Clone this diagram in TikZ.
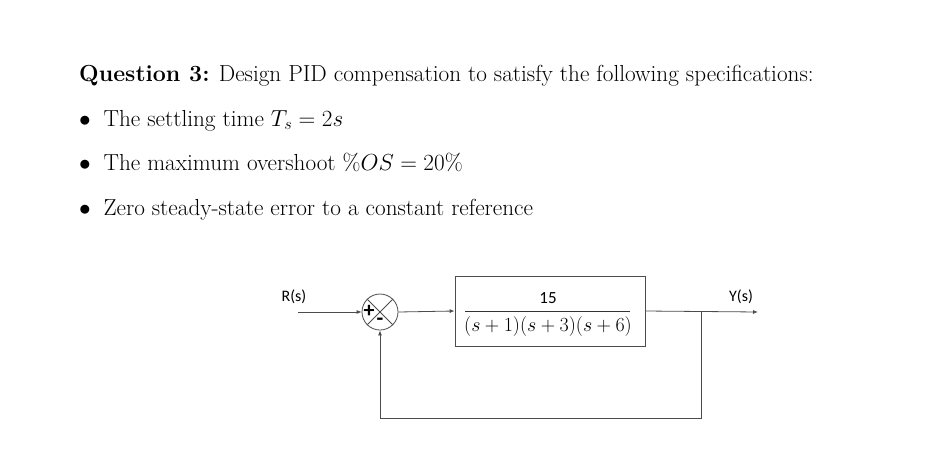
\RequirePackage{fix-cm}
\documentclass[tikz,border=0pt]{standalone}
\usepackage{fix-cm}
\usepackage{fontspec}
\newfontfamily\carlitofont{Carlito}
\usetikzlibrary{arrows.meta}
\begin{document}
\begin{tikzpicture}[x=1pt,y=-1pt,
  txt/.style={anchor=base west,inner sep=0,font=\fontsize{23.2}{28}\selectfont},
  lab/.style={inner sep=0,font=\carlitofont\fontsize{16}{18}\selectfont},
  wire/.style={draw=black!70,line width=0.8pt},
  arr/.style={wire,-{Latex[length=5pt,width=4pt]}}]
\useasboundingbox (0,0) rectangle (926,466);
\node[txt] (t) at (79,81) {\textbf{Question 3:} Design PID compensation to satisfy the following specifications:};
\node[txt] (b1) at (79,126) {$\bullet$\hspace{0.55em}The settling time $T_s=2s$};
\node[txt] (b2) at (79,170) {$\bullet$\hspace{0.55em}The maximum overshoot $\%OS=20\%$};
\node[txt] (b3) at (79,215) {$\bullet$\hspace{0.55em}Zero steady-state error to a constant reference};
\coordinate (in) at (298,312);
\node[lab] (R) at (294,297) {R(s)};
\node[lab] (Y) at (741,297) {Y(s)};
\node[circle,draw=black!70,line width=0.8pt,minimum size=36pt,inner sep=0] (S) at (380,312) {};
\draw[black!70,line width=0.8pt] (S.45) -- (S.225) (S.135) -- (S.315);
\node[inner sep=0,font=\carlitofont\bfseries\fontsize{22}{22}\selectfont] (p) at (369,311) {+};
\node[inner sep=0,font=\carlitofont\bfseries\fontsize{22}{22}\selectfont] (m) at (380,322) {-};
\node[draw=black!70,line width=0.8pt,minimum width=190pt,minimum height=70pt,inner sep=0] (G) at (550,311) {};
\node[inner sep=0,font=\carlitofont\fontsize{17}{19}\selectfont] (num) at (548,298) {15};
\draw[black!80,line width=0.7pt] (465,311) -- (630,311);
\node[inner sep=0,font=\fontsize{20}{22}\selectfont] (den) at (548,326) {$(s+1)(s+3)(s+6)$};
\coordinate (out) at (758,312);
\coordinate (br) at (701,312);
\draw[arr] (in) -- (S.west);
\draw[arr] (S.east) -- (G.west);
\draw[arr] (G.east) -- (out);
\draw[arr] (br) -- (701,418) -- (380,418) -- (S.south);
\end{tikzpicture}
\end{document}
